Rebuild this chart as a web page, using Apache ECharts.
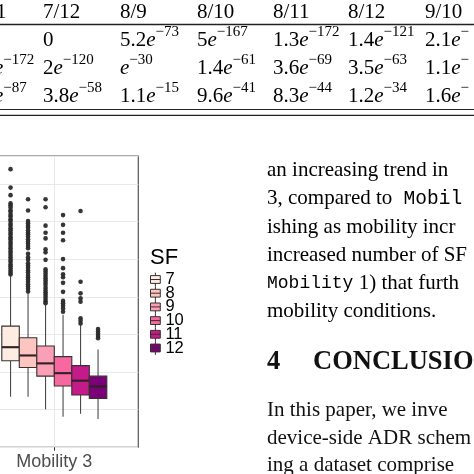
<!DOCTYPE html>
<html lang="en">
<head>
  <meta charset="UTF-8">
  <title>SF boxplot, Mobility 3</title>
  <script src="https://cdn.jsdelivr.net/npm/echarts@6/dist/echarts.min.js"></script>
  <style>
    html, body { margin: 0; padding: 0; background: #fff; }
    #main { width: 474px; height: 474px; }
  </style>
</head>
<body>
  <div id="main"></div>
  <script>
    // chart data (y in plot units)
    const mobility = ['Mobility 1', 'Mobility 2', 'Mobility 3']
    const sfLevels = ['7', '8', '9', '10', '11', '12']
    // [low whisker, Q1, median, Q3, high whisker] for Mobility 3
    const boxMob3 = [
      [1.34, 2.30, 2.66, 3.22, 4.55],
      [1.34, 2.12, 2.44, 2.91, 4.10],
      [1.01, 1.89, 2.23, 2.69, 3.78],
      [0.81, 1.63, 1.97, 2.41, 3.52],
      [0.89, 1.39, 1.77, 2.17, 3.25],
      [0.75, 1.30, 1.62, 1.89, 2.60]
    ]
    const outMob3 = [
      [7.39, 6.90, 6.70, 6.48, 6.43, 6.37, 6.30, 6.25, 6.18, 6.13, 6.06, 6.01, 5.94, 5.89,
       5.82, 5.77, 5.70, 5.65, 5.58, 5.53, 5.46, 5.41, 5.35, 5.29, 5.22, 5.17, 5.11, 5.05,
       4.98, 4.93, 4.86, 4.81, 4.75, 4.69, 4.64, 4.59],
      [6.59, 6.29, 6.01, 5.95, 5.89, 5.84, 5.77, 5.71, 5.66, 5.60, 5.53, 5.47, 5.41, 5.35,
       5.29, 5.14, 5.05, 4.98, 4.89, 4.83, 4.77, 4.70, 4.65, 4.58, 4.52, 4.46, 4.40, 4.33,
       4.27, 4.21, 4.14],
      [6.59, 6.38, 5.89, 5.70, 5.55, 5.26, 5.18, 4.98, 4.73, 4.67, 4.61, 4.55, 4.49, 4.43,
       4.37, 4.31, 4.24, 4.18, 4.12, 4.06, 4.00, 3.94, 3.88, 3.83],
      [6.17, 5.91, 5.70, 5.50, 5.00, 4.76, 4.60, 4.52, 4.37, 4.13, 3.89, 3.83, 3.76, 3.69, 3.60],
      [6.28, 4.40, 4.09, 3.96, 3.87, 3.43, 3.36, 3.29],
      [3.14, 3.08, 3.02, 2.96, 2.90]
    ]
    const yTicks = [0, 1, 2, 3, 4, 5, 6, 7]

    // table above the chart
    const tableHead = ['1', '7/12', '8/9', '8/10', '8/11', '8/12', '9/10']
    const tableRows = [
      [null, ['0', ''], ['5.2', '−73'], ['5', '−167'], ['1.3', '−172'], ['1.4', '−121'], ['2.1', '−']],
      [['', '−172'], ['2', '−120'], ['', '−30'], ['1.4', '−61'], ['3.6', '−69'], ['3.5', '−63'], ['1.1', '−']],
      [['', '−87'], ['3.8', '−58'], ['1.1', '−15'], ['9.6', '−41'], ['8.3', '−44'], ['1.2', '−34'], ['1.6', '−']]
    ]

    // body text right of the chart
    const bodyLines = [
      '{t|an increasing trend in}',
      '{t|3, compared to }{m2|Mobil}',
      '{t|ishing as mobility incr}',
      '{t|increased number of SF}',
      '{m|Mobility}{t| 1) that furth}',
      '{t|mobility conditions.}'
    ]
    const headNum = '4'
    const headText = 'CONCLUSION'
    const bodyLines2 = [
      'In this paper, we inve',
      'device-side ADR schem',
      'ing a dataset comprise'
    ]

    const sfColors = ['#feebe2', '#fcc5c0', '#fa9fb5', '#f768a1', '#c51b8a', '#7a0177']

    // x axis like ggplot: categories 1..3, panel to 3.6; the panel runs off the left edge
    const xMin = 0
    const xMax = 3.6
    const gridRight = 138.3
    const gridW = 504
    const pxPerUnit = gridW / (xMax - xMin)
    // position_dodge: 6 boxes share 0.75 of a category
    const boxUnit = 0.75 / sfLevels.length
    const dodge = sfLevels.map((s, k) => (k - (sfLevels.length - 1) / 2) * boxUnit)

    const myChart = echarts.init(document.getElementById('main'), null, { renderer: 'canvas' })

    const series = []
    sfLevels.forEach((sf, k) => {
      series.push({
        name: sf,
        type: 'custom',
        data: [[3].concat(boxMob3[k])],
        encode: { x: 0, y: [1, 2, 3, 4, 5] },
        z: 2,
        renderItem: (params, api) => {
          const x = api.value(0) + dodge[k]
          const p = [1, 2, 3, 4, 5].map(d => api.coord([x, api.value(d)]))
          const w = api.size([boxUnit, 0])[0]
          const cx = p[0][0]
          const wh = { stroke: '#4a4a4a', lineWidth: 1.1 }
          return {
            type: 'group',
            children: [
              { type: 'line', shape: { x1: cx, y1: p[0][1], x2: cx, y2: p[1][1] }, style: wh },
              { type: 'line', shape: { x1: cx, y1: p[3][1], x2: cx, y2: p[4][1] }, style: wh },
              {
                type: 'rect',
                shape: { x: cx - w / 2, y: p[3][1], width: w, height: p[1][1] - p[3][1] },
                style: { fill: sfColors[k], stroke: '#3a3030', lineWidth: 1.1 }
              },
              {
                type: 'line',
                shape: { x1: cx - w / 2, y1: p[2][1], x2: cx + w / 2, y2: p[2][1] },
                style: { stroke: '#2e2222', lineWidth: 2.1 }
              }
            ]
          }
        }
      })
    })
    sfLevels.forEach((sf, k) => {
      series.push({
        name: 'out' + sf,
        type: 'scatter',
        symbolSize: 4.6,
        symbolOffset: [dodge[k] * pxPerUnit, 0],
        itemStyle: { color: '#2b2b2b', opacity: 0.95 },
        data: outMob3[k].map(v => [3, v]),
        z: 3
      })
    })

    // table + text as graphic elements
    const serif = 'Liberation Serif'
    const colX = [-6, 43, 120, 197, 273, 348, 425]
    const rowTop = [-2.6, 24.7, 52.7, 80.7]
    const cellRich = {
      n: { fontFamily: serif, fontSize: 21, lineHeight: 26, verticalAlign: 'bottom', color: '#111' },
      i: { fontFamily: serif, fontSize: 21, fontStyle: 'italic', lineHeight: 26, verticalAlign: 'bottom', color: '#111' },
      s: { fontFamily: serif, fontSize: 15, lineHeight: 15, verticalAlign: 'top', color: '#111' }
    }
    const graphic = []
    tableHead.forEach((h, c) => {
      graphic.push({
        type: 'text', x: c === 0 ? -4 : colX[c], y: rowTop[0],
        style: { text: '{n|' + h + '}', rich: cellRich, verticalAlign: 'top' }
      })
    })
    tableRows.forEach((row, r) => {
      row.forEach((cell, c) => {
        if (!cell) return
        let txt
        if (cell[1] === '') txt = '{n|' + cell[0] + '}'
        else txt = (cell[0] ? '{n|' + cell[0] + '}' : '') + '{i|e}{s|' + cell[1] + '}'
        graphic.push({
          type: 'text', x: colX[c], y: rowTop[r + 1],
          style: { text: txt, rich: cellRich, verticalAlign: 'top' }
        })
      })
    })
    ;[[24.6, 1.5], [109.5, 1.2], [115.3, 1.2]].forEach(l => {
      graphic.push({
        type: 'line', shape: { x1: 0, y1: l[0], x2: 474, y2: l[0] },
        style: { stroke: '#222', lineWidth: l[1] }
      })
    })
    const bodyRich = {
      t: { fontFamily: serif, fontSize: 21, color: '#111' },
      m: { fontFamily: 'Liberation Mono', fontSize: 18, color: '#111' },
      m2: { fontFamily: 'Liberation Mono', fontSize: 19.5, color: '#111', padding: [0, 0, 0, 6] }
    }
    const lineMid = [170.4, 198.7, 227.0, 255.4, 283.0, 311.4]
    bodyLines.forEach((t, i) => {
      graphic.push({
        type: 'text', x: 267, y: lineMid[i],
        style: { text: t, rich: bodyRich, verticalAlign: 'middle' }
      })
    })
    graphic.push({
      type: 'text', x: 267, y: 362,
      style: { text: headNum, fontFamily: serif, fontSize: 26.5, fontWeight: 'bold', fill: '#111', verticalAlign: 'middle' }
    })
    graphic.push({
      type: 'text', x: 313, y: 362,
      style: { text: headText, fontFamily: serif, fontSize: 26.5, fontWeight: 'bold', fill: '#111', verticalAlign: 'middle' }
    })
    ;[410.4, 438.7, 465.4].forEach((y, i) => {
      graphic.push({
        type: 'text', x: 267, y: y,
        style: { text: bodyLines2[i], fontFamily: serif, fontSize: 21, fill: '#111', verticalAlign: 'middle' }
      })
    })

    const option = {
      animation: false,
      backgroundColor: '#fff',
      title: {
        text: 'SF', left: 150, top: 246.5, padding: 0,
        textStyle: { fontFamily: 'Liberation Sans', fontSize: 22, fontWeight: 'normal', color: '#000' }
      },
      legend: {
        data: sfLevels.map((s, k) => ({
          name: s,
          itemStyle: { color: sfColors[k], borderColor: '#3a3030', borderWidth: 1 }
        })),
        orient: 'vertical',
        left: 150,
        top: 271,
        padding: 0,
        itemWidth: 10,
        itemHeight: 13.7,
        itemGap: -3.3,
        selectedMode: false,
        icon: 'path://M5,0V3M0,3H10V11H0ZM0,7H10M5,11V14',
        textStyle: { fontFamily: 'Liberation Sans', fontSize: 16.5, lineHeight: 13, color: '#000', padding: 0 }
      },
      grid: {
        left: gridRight - gridW,
        width: gridW,
        top: 156,
        height: 291.3,
        outerBoundsMode: 'none',
        containLabel: false,
        show: true,
        backgroundColor: '#fff',
        borderColor: '#555',
        borderWidth: 1.2
      },
      xAxis: {
        type: 'value',
        min: xMin,
        max: xMax,
        interval: 1,
        axisLine: { show: false },
        axisTick: { show: true, length: 3.5, customValues: [1, 2, 3], lineStyle: { color: '#333' } },
        axisLabel: {
          customValues: [1, 2, 3],
          formatter: v => mobility[v - 1] || '',
          fontFamily: 'Liberation Sans', fontSize: 18, color: '#4d4d4d', margin: 6
        },
        splitLine: { show: true, lineStyle: { color: '#e8e8e8', width: 1 } }
      },
      yAxis: {
        type: 'value',
        min: yTicks[0],
        max: 7.74,
        interval: 1,
        axisLine: { show: false },
        axisTick: { show: false },
        axisLabel: { show: false },
        splitLine: { show: true, lineStyle: { color: '#e8e8e8', width: 1 } }
      },
      series: series,
      graphic: graphic
    }
    myChart.setOption(option)
  </script>
</body>
</html>
